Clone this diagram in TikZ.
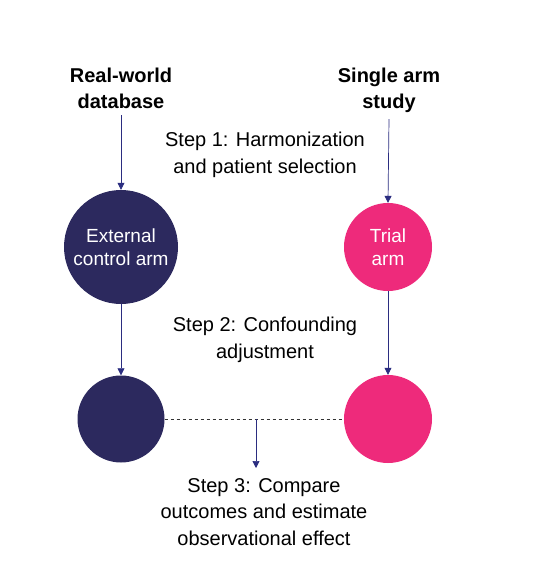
\documentclass[tikz,border=0pt]{standalone}
\usepackage{fontspec}
\setmainfont{Liberation Sans}
\usetikzlibrary{arrows.meta}
\definecolor{ecanavy}{HTML}{2C295E}
\definecolor{trialpink}{HTML}{EE2A7B}
\definecolor{flowblue}{HTML}{2B2D80}
\begin{document}
\begin{tikzpicture}[x=1pt, y=-1pt,
  flow/.style={-{Triangle[width=7pt,length=7pt]}, flowblue, line width=0.7pt},
  steptext/.style={align=center, font=\fontsize{20}{26.5}\selectfont, inner sep=0pt},
  source/.style={align=center, font=\fontsize{20}{26}\selectfont\bfseries, inner sep=0pt},
  arm/.style={circle, inner sep=0pt, text=white, align=center, font=\fontsize{19}{23}\selectfont}]
\useasboundingbox[fill=white] (0,0) rectangle (533,579);

% Data sources
\node[source, anchor=north] (rwd) at (121,68) {Real-world\\database};
\node[source, anchor=north] (sas) at (389,68) {Single arm\\study};

% Study arms
\node[arm, fill=ecanavy, minimum size=114] (eca) at (121,247) {External\\control arm};
\node[arm, fill=trialpink, minimum size=88] (trial) at (388,247) {Trial\\arm};

% Adjusted arms
\node[arm, fill=ecanavy, minimum size=87] (ecaadj) at (121,419) {};
\node[arm, fill=trialpink, minimum size=88] (trialadj) at (388,419) {};

% Step labels
\node[steptext] (step1) at (265,155) {Step 1: Harmonization\\and patient selection};
\node[steptext] (step2) at (265,340) {Step 2: Confounding\\adjustment};
\node[steptext, anchor=north] (step3) at (264,478) {Step 3: Compare\\outcomes and estimate\\observational effect};

% Workflow arrows
\draw[flow] ([yshift=-6pt]rwd.south) -- (eca.north);
\draw[flow] ([yshift=-6pt]sas.south) -- (trial.north);
\draw[flow] (eca.south) -- (ecaadj.north);
\draw[flow] (trial.south) -- (trialadj.north);

% Comparison
\draw[dashed, line width=0.5pt, black!80] (ecaadj.east) -- (trialadj.west);
\coordinate (cmp) at (256,419);
\draw[flow] (cmp) -- ([yshift=10pt]step3.north -| cmp);

\end{tikzpicture}
\end{document}
